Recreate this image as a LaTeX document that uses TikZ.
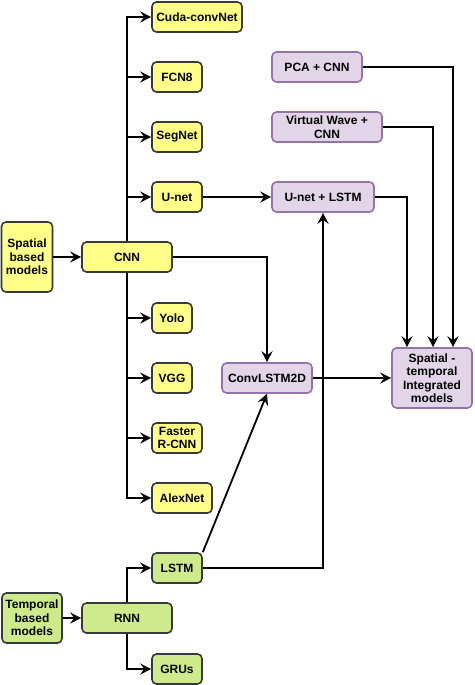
\documentclass[tikz,border=0pt]{standalone}
\usepackage{fontspec}
\setmainfont{Liberation Sans}
\usetikzlibrary{arrows.meta,calc}
\definecolor{yfill}{HTML}{FFFF88}
\definecolor{gfill}{HTML}{CDEB8B}
\definecolor{pfill}{HTML}{E1D5E7}
\definecolor{pdraw}{HTML}{9673A6}
\definecolor{dkdraw}{HTML}{36393D}
\begin{document}
\begin{tikzpicture}[x=1pt,y=-1pt,
  box/.style={draw, rounded corners=4.5pt, line width=1.6pt, inner sep=1pt, align=center,
    font=\fontsize{12}{13.5}\selectfont\bfseries, minimum height=30pt},
  ybox/.style={box, fill=yfill, draw=dkdraw},
  gbox/.style={box, fill=gfill, draw=dkdraw},
  pbox/.style={box, fill=pfill, draw=pdraw},
  conn/.style={line width=1.8pt, -{Stealth[length=11pt,width=11pt,inset=4pt]}}]
\useasboundingbox (0,0) rectangle (474,685);
% yellow
\node[ybox, minimum width=90pt] (cuda) at (197,17) {Cuda-convNet};
\node[ybox, minimum width=50pt] (fcn) at (177,77) {FCN8};
\node[ybox, minimum width=50pt] (seg) at (177,137) {SegNet};
\node[ybox, minimum width=50pt] (unet) at (177,197) {U-net};
\node[ybox, minimum width=51pt, minimum height=70pt] (spatial) at (27,257) {Spatial\\based\\models};
\node[ybox, minimum width=90pt] (cnn) at (127,257) {CNN};
\node[ybox, minimum width=40pt] (yolo) at (172,318) {Yolo};
\node[ybox, minimum width=40pt] (vgg) at (172,378) {VGG};
\node[ybox, minimum width=50pt] (faster) at (177,438) {Faster\\R-CNN};
\node[ybox, minimum width=60pt] (alex) at (182,498) {AlexNet};
% green
\node[gbox, minimum width=50pt] (lstm) at (177,568) {LSTM};
\node[gbox, minimum width=60pt, minimum height=50pt] (temporal) at (32,618) {Temporal\\based\\models};
\node[gbox, minimum width=90pt] (rnn) at (127,618) {RNN};
\node[gbox, minimum width=50pt] (gru) at (177,669) {GRUs};
% purple
\node[pbox, minimum width=90pt] (pca) at (317,67) {PCA + CNN};
\node[pbox, minimum width=110pt] (vw) at (327,127) {Virtual Wave +\\CNN};
\node[pbox, minimum width=102pt] (ul) at (323,197) {U-net + LSTM};
\node[pbox, minimum width=90pt] (conv) at (267,378) {ConvLSTM2D};
\node[pbox, minimum width=80pt, minimum height=60pt] (st) at (432,378) {Spatial -\\temporal\\Integrated\\models};
\coordinate (stA) at ($(st.north)+(-25,0)$);
\coordinate (stB) at ($(st.north)+(1,0)$);
\coordinate (stC) at ($(st.north)+(21,0)$);
% connectors
\draw[conn] (spatial) -- (cnn);
\draw[conn] (cnn.north) |- (cuda.west);
\draw[conn] (cnn.north) |- (fcn.west);
\draw[conn] (cnn.north) |- (seg.west);
\draw[conn] (cnn.north) |- (unet.west);
\draw[conn] (cnn.south) |- (yolo.west);
\draw[conn] (cnn.south) |- (vgg.west);
\draw[conn] (cnn.south) |- (faster.west);
\draw[conn] (cnn.south) |- (alex.west);
\draw[conn] (temporal) -- (rnn);
\draw[conn] (rnn.north) |- (lstm.west);
\draw[conn] (rnn.south) |- (gru.west);
\draw[conn] (unet) -- (ul);
\draw[conn] (cnn.east) -| (conv.north);
\draw[conn] (lstm.east) -| (ul.south);
\draw[conn] (lstm.north east) -- (conv.south);
\draw[conn] (conv) -- (st);
\draw[conn] (ul.east) -| (stA);
\draw[conn] (vw.east) -| (stB);
\draw[conn] (pca.east) -| (stC);
\end{tikzpicture}
\end{document}
